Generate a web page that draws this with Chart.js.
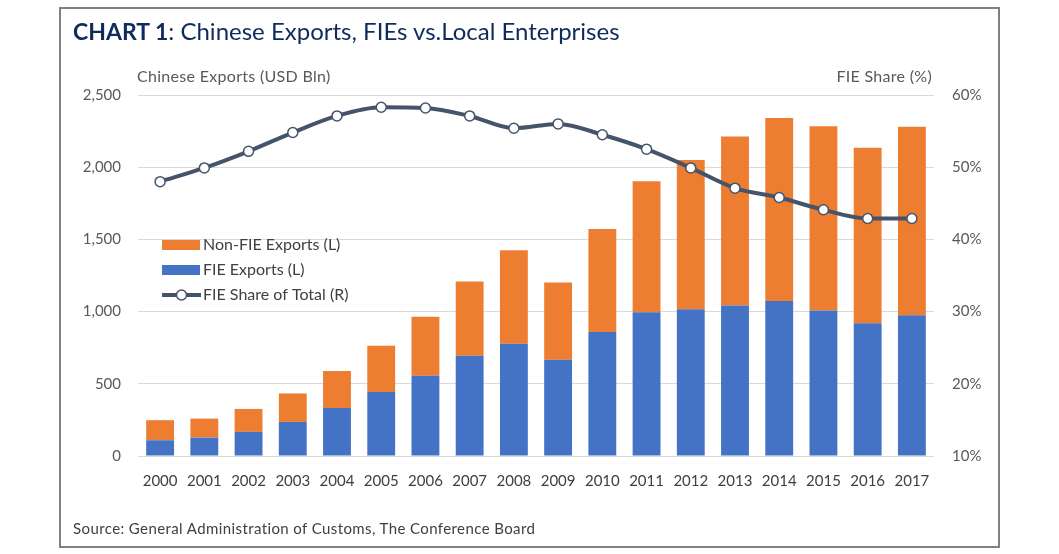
<!DOCTYPE html>
<html><head><meta charset="utf-8">
<script src="https://cdn.jsdelivr.net/npm/chart.js@4.4.0/dist/chart.umd.min.js"></script>
<style>
html,body{margin:0;padding:0;background:#fff;width:1059px;height:554px;overflow:hidden;font-family:Lato,"Open Sans",sans-serif;}
#frame{position:absolute;left:59px;top:7px;width:937px;height:537px;border:2px solid #808080;}
#title{position:absolute;left:73px;top:16px;font-size:23px;color:#0F2A5C;white-space:nowrap;}
#title b{font-weight:700;}
#title span{font-size:24px;}
#ylab{position:absolute;left:137px;top:66px;font-size:16px;letter-spacing:0.3px;color:#595959;}
#y2lab{position:absolute;right:127px;top:66px;font-size:16px;letter-spacing:0.3px;color:#595959;}
#src{position:absolute;left:73px;top:519px;font-size:15px;letter-spacing:0.4px;color:#404040;white-space:nowrap;}
#wrap{position:absolute;left:0;top:0;width:1059px;height:554px;}
</style></head>
<body>
<div id="frame"></div>
<div id="wrap"><canvas id="c" width="1059" height="554"></canvas></div>
<div id="title"><b>CHART 1</b><span>: Chinese Exports, FIEs vs.Local Enterprises</span></div>
<div id="ylab">Chinese Exports (USD Bln)</div>
<div id="y2lab">FIE Share (%)</div>
<div id="src">Source: General Administration of Customs, The Conference Board</div>
<script>
const years = ['2000','2001','2002','2003','2004','2005','2006','2007','2008','2009','2010','2011','2012','2013','2014','2015','2016','2017'];
const totalExports = [248,259,326,433,588,764,965,1208,1424,1201,1572,1903,2049,2213,2340,2283,2134,2280];
const fieExports = [109,127,167,236,333,444,556,694,778,667,859,995,1016,1042,1074,1007,919,974];
const nonFieExports = totalExports.map((t,i)=>t-fieExports[i]);
const fieShare = [48.0,49.9,52.2,54.8,57.1,58.3,58.2,57.1,55.4,56.0,54.5,52.5,49.9,47.1,45.8,44.1,42.9,42.9];
const leftTicks = [0,500,1000,1500,2000,2500];
const rightTicks = [10,20,30,40,50,60];

const ORANGE='#ED7D31', BLUE='#4472C4', LINE='#44546A';
const FONT='Lato, "Open Sans", sans-serif';

const legendPlugin = {
  id:'inlegend',
  afterDraw(chart){
    const ctx=chart.ctx;
    const ds=chart.data.datasets;
    const rows=[{d:ds[2],y:245,type:'bar'},{d:ds[1],y:270,type:'bar'},{d:ds[0],y:295,type:'line'}];
    ctx.save();
    ctx.font='16px '+FONT;
    ctx.textBaseline='middle';
    rows.forEach(r=>{
      if(r.type==='bar'){
        ctx.fillStyle=r.d.backgroundColor;
        ctx.fillRect(162,r.y-5,38,10);
      } else {
        ctx.strokeStyle=r.d.borderColor;ctx.lineWidth=4;
        ctx.beginPath();ctx.moveTo(162,r.y);ctx.lineTo(201,r.y);ctx.stroke();
        ctx.fillStyle='#fff';ctx.lineWidth=1.5;
        ctx.beginPath();ctx.arc(181.5,r.y,5,0,Math.PI*2);ctx.fill();ctx.stroke();
      }
      ctx.fillStyle='#404040';
      ctx.fillText(r.d.label,203,r.y);
    });
    ctx.restore();
  }
};

new Chart(document.getElementById('c'),{
  type:'bar',
  data:{labels:years,datasets:[
    {type:'line',label:'FIE Share of Total (R)',data:fieShare,yAxisID:'y2',borderColor:LINE,borderWidth:4,
     pointRadius:5,pointBackgroundColor:'#fff',pointBorderColor:LINE,pointBorderWidth:1.5,
     cubicInterpolationMode:'monotone',order:0},
    {label:'FIE Exports (L)',data:fieExports,backgroundColor:BLUE,stack:'s',yAxisID:'y',order:1,
     categoryPercentage:0.9,barPercentage:0.7},
    {label:'Non-FIE Exports (L)',data:nonFieExports,backgroundColor:ORANGE,stack:'s',yAxisID:'y',order:1,
     categoryPercentage:0.9,barPercentage:0.7}
  ]},
  options:{
    responsive:false,animation:false,
    layout:{padding:{top:95,bottom:58,left:0,right:0}},
    plugins:{legend:{display:false},tooltip:{enabled:false}},
    scales:{
      x:{stacked:true,grid:{display:false,drawTicks:false},border:{display:false},
        ticks:{color:'#404040',font:{size:15,family:FONT},padding:16,maxRotation:0,autoSkip:false},
        afterFit(s){s.height=40;}},
      y:{stacked:true,position:'left',min:0,max:2500,
        afterBuildTicks(s){s.ticks=leftTicks.map(v=>({value:v}));},
        grid:{color:'#D9D9D9',lineWidth:1,drawTicks:false},border:{display:false},
        ticks:{color:'#595959',font:{size:15,family:FONT},padding:17,callback:v=>v.toLocaleString('en-US')},
        afterFit(s){s.width=138;}},
      y2:{position:'right',min:10,max:60,
        afterBuildTicks(s){s.ticks=rightTicks.map(v=>({value:v}));},
        grid:{drawOnChartArea:false,drawTicks:false},border:{display:false},
        ticks:{color:'#595959',font:{size:15,family:FONT},padding:18,callback:v=>v+'%'},
        afterFit(s){s.width=125;}}
    }
  },
  plugins:[legendPlugin]
});
</script>
</body></html>
